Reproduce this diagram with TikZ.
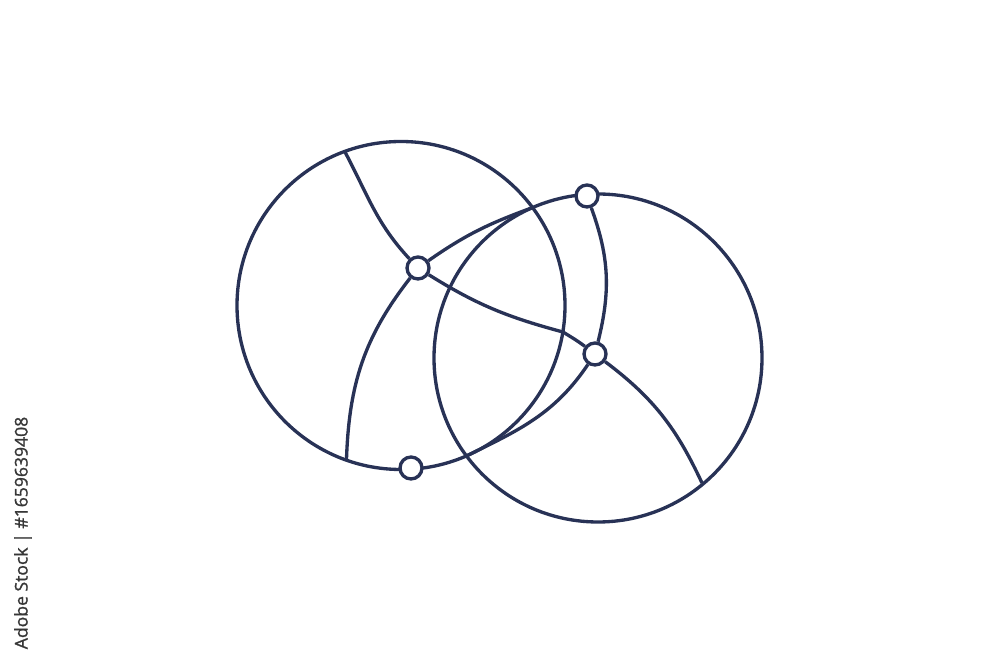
\documentclass[tikz,border=0pt]{standalone}
\usepackage{fontspec}
\setmainfont{Open Sans}
\newfontfamily\stampfont[FakeBold=1.2]{Open Sans}

\definecolor{globeblue}{RGB}{40,50,86}
\definecolor{stampgray}{RGB}{55,55,55}

\tikzset{
  ring/.style={draw=globeblue,line width=1mm},
  meridian/.style={draw=globeblue,line width=1mm},
  hub/.style={circle,draw=globeblue,fill=white,line width=1mm,inner sep=0pt,minimum size=6.6mm}
}

\begin{document}
\begin{tikzpicture}[x=0.3mm,y=0.3mm]

\useasboundingbox (0,0) rectangle (1000,667);

\draw[ring] (401,361.5) circle[radius=164];
\draw[ring] (598,309) circle[radius=164];

\coordinate (lt) at (345,515);
\coordinate (lr) at (563,335);
\coordinate (lb) at (346.5,208);
\coordinate (ut) at (532.6,459.4);
\coordinate (lx) at (466.4,211.1);
\coordinate (rb) at (702,184);

\node[hub] (h1) at (418,399) {};
\node[hub] (h2) at (587,471) {};
\node[hub] (h3) at (595,313) {};
\node[hub] (h4) at (411,199) {};

\draw[meridian] (lt) to[out=-62,in=133] (h1);
\draw[meridian] (h1) to[out=-32,in=165] (lr);
\draw[meridian] (lr) to[out=-32,in=143] (h3);
\draw[meridian] (h3) to[out=-37,in=115] (rb);

\draw[meridian] (lb) to[out=88,in=-128] (h1);
\draw[meridian] (h1) to[out=35,in=200] (ut);

\draw[meridian] (h2) to[out=-70,in=76] (h3);
\draw[meridian] (h3) to[out=-124,in=26] (lx);

\node[rotate=90,text=stampgray,font=\stampfont\fontsize{15}{15}\selectfont] (stamp) at (23,134) {Adobe Stock | \#1659639408};

\end{tikzpicture}
\end{document}
